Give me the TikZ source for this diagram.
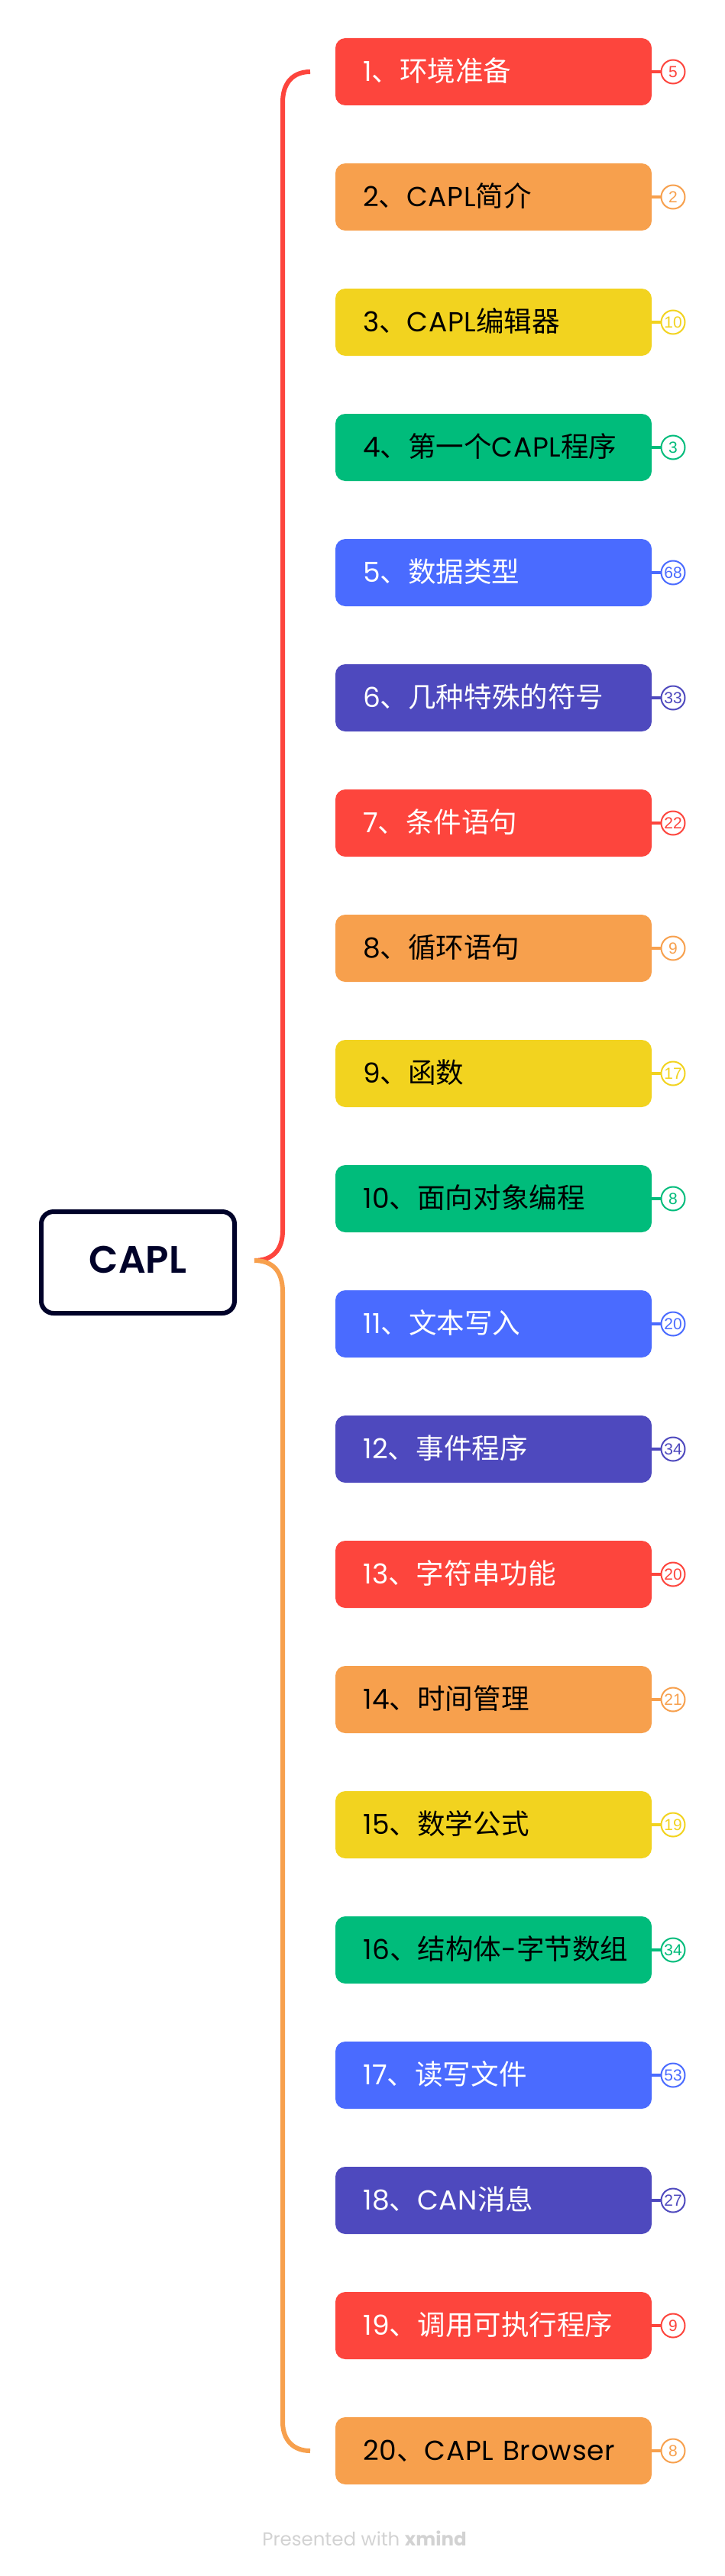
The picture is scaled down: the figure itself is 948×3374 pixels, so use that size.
\documentclass[tikz,border=0pt]{standalone}
\usepackage{fontspec}
\setmainfont{Poppins}[LetterSpace=2]
\newfontfamily\markfont{Poppins}
\newfontfamily\rootfont{Poppins SemiBold}
\newfontfamily\cjkfont{Noto Sans CJK SC}[Scale=1.015]
\newfontfamily\numfont{Liberation Sans}
\newcommand{\cj}[1]{{\cjkfont #1}}
\definecolor{cred}{HTML}{FD453D}
\definecolor{corange}{HTML}{F7A04D}
\definecolor{cyellow}{HTML}{F2D31F}
\definecolor{cgreen}{HTML}{00BC7B}
\definecolor{cblue}{HTML}{4A6BFF}
\definecolor{cindigo}{HTML}{4E49BE}
\definecolor{cink}{HTML}{000229}
\definecolor{cmark}{HTML}{D2D2D2}
\tikzset{
  itembox/.style={rectangle,rounded corners=13pt,minimum height=88pt,inner ysep=0pt,
    inner xsep=36pt,text width=342pt,align=left,text height=25pt,text depth=0pt,
    font=\fontsize{36}{40}\selectfont},
  rootbox/.style={rectangle,draw=cink,line width=6pt,rounded corners=16pt,fill=white,
    minimum width=253pt,minimum height=133pt,inner sep=0pt,text=cink,
    text height=35pt,text depth=7pt,font=\rootfont\fontsize{50}{56}\selectfont},
  countmark/.style={circle,draw,fill=white,line width=2pt,minimum size=31pt,inner sep=0pt,
    font=\numfont\fontsize{21}{24}\selectfont},
  countlink/.style={line width=4pt},
  branch/.style={line width=6pt},
  markstyle/.style={inner sep=0pt,text=cmark,anchor=base,font=\markfont\fontsize{24.5}{30}\selectfont}
}
\begin{document}
\begin{tikzpicture}[x=1pt,y=-1pt]
\useasboundingbox (0,0) rectangle (948,3374);
\node[rootbox] (root) at (180.5,1653.5) {CAPL};
\foreach \i/\txt/\col/\tcol/\num in {
  1/{1\cj{、环境准备}}/cred/white/5,
  2/{2\cj{、}CAPL\cj{简介}}/corange/black/2,
  3/{3\cj{、}CAPL\cj{编辑器}}/cyellow/black/10,
  4/{4\cj{、第一个}CAPL\cj{程序}}/cgreen/black/3,
  5/{5\cj{、数据类型}}/cblue/white/68,
  6/{6\cj{、几种特殊的符号}}/cindigo/white/33,
  7/{7\cj{、条件语句}}/cred/white/22,
  8/{8\cj{、循环语句}}/corange/black/9,
  9/{9\cj{、函数}}/cyellow/black/17,
  10/{10\cj{、面向对象编程}}/cgreen/black/8,
  11/{11\cj{、文本写入}}/cblue/white/20,
  12/{12\cj{、事件程序}}/cindigo/white/34,
  13/{13\cj{、字符串功能}}/cred/white/20,
  14/{14\cj{、时间管理}}/corange/black/21,
  15/{15\cj{、数学公式}}/cyellow/black/19,
  16/{16\cj{、结构体}\mbox{-}\cj{字节数组}}/cgreen/black/34,
  17/{17\cj{、读写文件}}/cblue/white/53,
  18/{18\cj{、}CAN\cj{消息}}/cindigo/white/27,
  19/{19\cj{、调用可执行程序}}/cred/white/9,
  20/{20\cj{、}CAPL Browser}/corange/black/8%
}{
  \pgfmathsetmacro{\yy}{94+164*(\i-1)}
  \node[itembox,fill=\col,text=\tcol] (item\i) at (646,\yy) {\mbox{\txt}};
  \node[countmark,draw=\col,text=\col] (count\i) at (881,\yy) {\num};
  \draw[countlink,draw=\col] (item\i.east) -- (count\i.west);
}
\coordinate (hub) at (333,1651);
\coordinate (topend) at (406,94);
\coordinate (botend) at (406,3210);
\draw[branch,draw=cred] (hub) .. controls (356,1651) and (370,1638) .. (370,1612)
  -- (370,134) .. controls (370,108) and (384,94) .. (topend);
\draw[branch,draw=corange] (hub) .. controls (356,1651) and (370,1664) .. (370,1692)
  -- (370,3172) .. controls (370,3196) and (384,3210) .. (botend);
\node[markstyle] (mark) at (477,3334) {Presented with \textbf{xmind}};
\end{tikzpicture}
\end{document}
